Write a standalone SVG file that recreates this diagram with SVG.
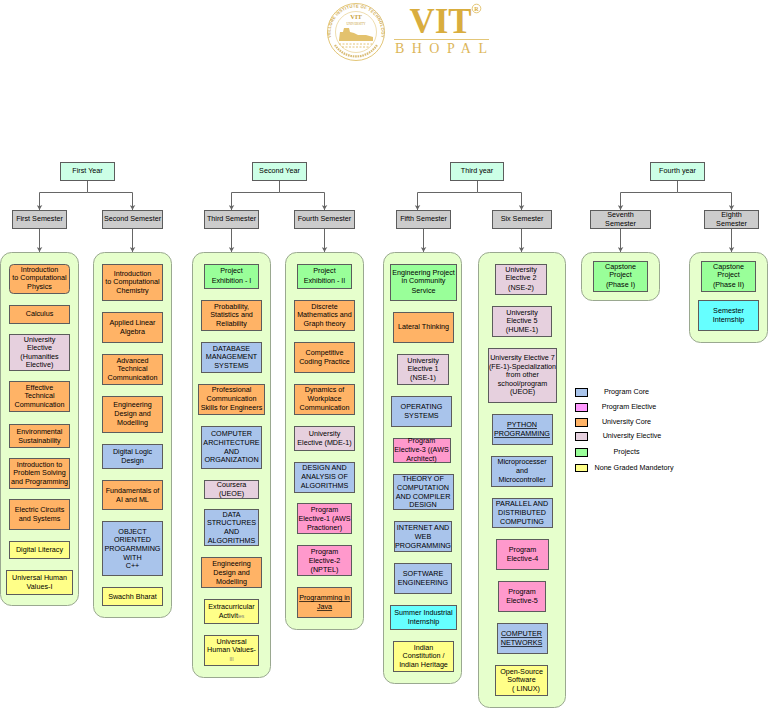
<svg xmlns="http://www.w3.org/2000/svg" width="768" height="708" viewBox="0 0 768 708">
<style>
text{font-family:"Liberation Sans",Arial,sans-serif;font-size:7.2px;fill:#000;text-anchor:middle}
rect{stroke:#5c5c5c;stroke-width:1}
.panel{fill:#e6ffcc;stroke:#9aa890}
.org{fill:#ffb366}.blu{fill:#a9c4eb}.lil{fill:#e6d0de}.grn{fill:#99ff99}.yel{fill:#ffff88}.pnk{fill:#ff99cc}.cya{fill:#66ffff}.gry{fill:#cccccc}.min{fill:#ccffe6}
.leg{stroke:#000}
.con{fill:none;stroke:#666;stroke-width:1}
.gold{fill:#d9ad3e}
.u{text-decoration:underline}
.sm{font-size:5px;fill:#777}
</style>
<defs>
<marker id="arr" markerUnits="userSpaceOnUse" markerWidth="6" markerHeight="6" refX="5" refY="3" orient="auto"><path d="M0,0.2L5,3L0,5.8L1.2,3Z" fill="#666"/></marker>
</defs>
<g id="logo">
<g fill="none" stroke="#e3c678">
<circle cx="356" cy="32" r="28.5" stroke-width="1"/>
<circle cx="356" cy="32" r="20.5" stroke-width="0.6"/>
</g>
<path id="sealTop" d="M331,38A25.5,25.5 0 1 1 381,38" fill="none"/>
<text style="font-size:4.2px;fill:#d0ab52;font-weight:bold;letter-spacing:.3px"><textPath href="#sealTop" startOffset="50%">VELLORE INSTITUTE OF TECHNOLOGY</textPath></text>
<path d="M335,45A25,25 0 0 0 377,45" fill="none" stroke="#d0ab52" stroke-width="2.2" stroke-dasharray="1.6 .8" opacity=".8"/>
<text x="356" y="18.5" style="font-family:'Liberation Serif',serif;font-size:6.5px;fill:#c9a140;font-weight:bold">VIT</text>
<text x="356" y="24.5" style="font-family:'Liberation Serif',serif;font-size:3.2px;fill:#c9a140">UNIVERSITY</text>
<path class="gold" opacity=".75" d="M339,40L340,32L343,32L344,28L349,28L350,32L354,33L358,35L366,35L373,37L373,41L360,41L339,41Z"/>
<path d="M339,44L373,44M342,47L370,47" stroke="#d9ad3e" stroke-width="1" stroke-dasharray="2 1.5" fill="none" opacity=".7"/>
<text x="409.5" y="33" style="font-family:'Liberation Serif',serif;font-size:36px;font-weight:bold;fill:#d9ad3e;text-anchor:start" textLength="62" lengthAdjust="spacingAndGlyphs">VIT</text>
<circle cx="476.5" cy="8.5" r="4.3" fill="none" stroke="#d9ad3e" stroke-width=".7"/>
<text x="476.5" y="10.7" style="font-family:'Liberation Serif',serif;font-size:6px;font-weight:bold;fill:#d9ad3e">R</text>
<path d="M394,39.5H489" stroke="#e3c678" stroke-width="1"/>
<text x="395" y="52.5" style="font-family:'Liberation Serif',serif;font-size:14px;fill:#dcb65a;text-anchor:start" textLength="92">BHOPAL</text>
</g>
<g id="connectors">
<path class="con" d="M87.5,180.5V192.5"/>
<path class="con" marker-end="url(#arr)" d="M87.5,192.5H39.5V210"/>
<path class="con" marker-end="url(#arr)" d="M87.5,192.5H132.5V210"/>
<path class="con" d="M279.5,180.5V192.5"/>
<path class="con" marker-end="url(#arr)" d="M279.5,192.5H231.5V210"/>
<path class="con" marker-end="url(#arr)" d="M279.5,192.5H324.5V210"/>
<path class="con" d="M477.5,180.5V192.5"/>
<path class="con" marker-end="url(#arr)" d="M477.5,192.5H417.5V210"/>
<path class="con" marker-end="url(#arr)" d="M477.5,192.5H521.5V210"/>
<path class="con" d="M677.5,180.5V192.5"/>
<path class="con" marker-end="url(#arr)" d="M677.5,192.5H620.5V210"/>
<path class="con" marker-end="url(#arr)" d="M677.5,192.5H731.5V210"/>
<path class="con" marker-end="url(#arr)" d="M39.5,228.5V252"/>
<path class="con" marker-end="url(#arr)" d="M132.5,228.5V252"/>
<path class="con" marker-end="url(#arr)" d="M231.5,228.5V252"/>
<path class="con" marker-end="url(#arr)" d="M324.5,228.5V252"/>
<path class="con" marker-end="url(#arr)" d="M423.5,228.5V252"/>
<path class="con" marker-end="url(#arr)" d="M521.5,228.5V252"/>
<path class="con" marker-end="url(#arr)" d="M620.5,228.5V252"/>
<path class="con" marker-end="url(#arr)" d="M731.5,228.5V252"/>
</g>
<g id="year1"><rect class="min" x="60.5" y="162.5" width="54" height="18"/><text x="87.5" y="173">First Year</text></g>
<g id="year2"><rect class="min" x="252.5" y="162.5" width="54" height="18"/><text x="279.5" y="173">Second Year</text></g>
<g id="year3"><rect class="min" x="450.5" y="162.5" width="53" height="18"/><text x="477" y="173">Third year</text></g>
<g id="year4"><rect class="min" x="650.5" y="162.5" width="54" height="18"/><text x="677.5" y="173">Fourth year</text></g>
<g id="sem1"><rect class="gry" x="12.5" y="210.5" width="54" height="18"/><text x="39.5" y="221">First Semester</text></g>
<g id="sem2"><rect class="gry" x="102.5" y="210.5" width="60" height="18"/><text x="132.5" y="221">Second Semester</text></g>
<g id="sem3"><rect class="gry" x="204.5" y="210.5" width="54" height="18"/><text x="231.5" y="221">Third Semester</text></g>
<g id="sem4"><rect class="gry" x="294.5" y="210.5" width="60" height="18"/><text x="324.5" y="221">Fourth Semester</text></g>
<g id="sem5"><rect class="gry" x="396.5" y="210.5" width="54" height="18"/><text x="423.5" y="221">Fifth Semester</text></g>
<g id="sem6"><rect class="gry" x="492.5" y="210.5" width="59" height="18"/><text x="522" y="221">Six Semester</text></g>
<g id="sem7"><rect class="gry" x="590.5" y="210.5" width="60" height="18"/><text x="620.5"><tspan x="620.5" y="217.3">Seventh</tspan><tspan x="620.5" y="226.3">Semester</tspan></text></g>
<g id="sem8"><rect class="gry" x="704.5" y="210.5" width="54" height="18"/><text x="731.5"><tspan x="731.5" y="217.3">Eighth</tspan><tspan x="731.5" y="226.3">Semester</tspan></text></g>
<g id="panel1"><rect class="panel" x="0.5" y="252.5" width="78" height="353" rx="11"/></g>
<g id="panel2"><rect class="panel" x="93.5" y="252.5" width="78" height="365" rx="11"/></g>
<g id="panel3"><rect class="panel" x="192.5" y="252.5" width="78" height="425" rx="11"/></g>
<g id="panel4"><rect class="panel" x="285.5" y="252.5" width="78" height="377" rx="11"/></g>
<g id="panel5"><rect class="panel" x="383.5" y="252.5" width="78" height="431" rx="11"/></g>
<g id="panel6"><rect class="panel" x="478.5" y="252.5" width="87" height="455" rx="11"/></g>
<g id="panel7"><rect class="panel" x="581.5" y="252.5" width="78" height="48" rx="11"/></g>
<g id="panel8"><rect class="panel" x="689.5" y="252.5" width="78" height="90" rx="11"/></g>

<g id="c1"><rect class="org" x="9.5" y="264.5" width="60" height="29" rx="4"/><text><tspan x="39.5" y="272">Introduction</tspan><tspan x="39.5" y="280.3">to Computational</tspan><tspan x="39.5" y="289">Physics</tspan></text></g>
<g id="c2"><rect class="org" x="9.5" y="305.5" width="60" height="18"/><text x="39.5" y="316">Calculus</text></g>
<g id="c3"><rect class="lil" x="9.5" y="334.5" width="60" height="36"/><text><tspan x="39.5" y="342">University</tspan><tspan x="39.5" y="350">Elective</tspan><tspan x="39.5" y="359">(Humanities</tspan><tspan x="39.5" y="367">Elective)</tspan></text></g>
<g id="c4"><rect class="org" x="9.5" y="381.5" width="60" height="30"/><text><tspan x="39.5" y="390">Effective</tspan><tspan x="39.5" y="398.3">Technical</tspan><tspan x="39.5" y="407">Communication</tspan></text></g>
<g id="c5"><rect class="org" x="9.5" y="424.5" width="60" height="23"/><text><tspan x="39.5" y="434.3">Environmental</tspan><tspan x="39.5" y="443">Sustainability</tspan></text></g>
<g id="c6"><rect class="org" x="9.5" y="458.5" width="60" height="30"/><text><tspan x="39.5" y="467">Introduction to</tspan><tspan x="39.5" y="475.3">Problem Solving</tspan><tspan x="39.5" y="484.3">and Programming</tspan></text></g>
<g id="c7"><rect class="org" x="9.5" y="499.5" width="60" height="30"/><text><tspan x="39.5" y="512.3">Electric Circuits</tspan><tspan x="39.5" y="521.3">and Systems</tspan></text></g>
<g id="c8"><rect class="yel" x="9.5" y="541.5" width="60" height="17"/><text x="39.5" y="552.3">Digital Literacy</text></g>
<g id="c9"><rect class="yel" x="6.5" y="570.5" width="66" height="24"/><text><tspan x="39.5" y="580.3">Universal Human</tspan><tspan x="39.5" y="589">Values-I</tspan></text></g>

<g id="c10"><rect class="org" x="102.5" y="264.5" width="60" height="36"/><text><tspan x="132.5" y="276">Introduction</tspan><tspan x="132.5" y="284.3">to Computational</tspan><tspan x="132.5" y="293">Chemistry</tspan></text></g>
<g id="c11"><rect class="org" x="102.5" y="312.5" width="60" height="30"/><text><tspan x="132.5" y="325.3">Applied Linear</tspan><tspan x="132.5" y="334">Algebra</tspan></text></g>
<g id="c12"><rect class="org" x="102.5" y="354.5" width="60" height="30"/><text><tspan x="132.5" y="363">Advanced</tspan><tspan x="132.5" y="371.3">Technical</tspan><tspan x="132.5" y="380">Communication</tspan></text></g>
<g id="c13"><rect class="org" x="102.5" y="396.5" width="60" height="36"/><text><tspan x="132.5" y="407.3">Engineering</tspan><tspan x="132.5" y="416.3">Design  and</tspan><tspan x="132.5" y="425">Modelling</tspan></text></g>
<g id="c14"><rect class="blu" x="102.5" y="444.5" width="60" height="24"/><text><tspan x="132.5" y="454">Digital Logic</tspan><tspan x="132.5" y="463">Design</tspan></text></g>
<g id="c15"><rect class="org" x="102.5" y="480.5" width="60" height="29"/><text><tspan x="132.5" y="493.3">Fundamentals of</tspan><tspan x="132.5" y="502.3">AI and ML</tspan></text></g>
<g id="c16"><rect class="blu" x="102.5" y="521.5" width="60" height="54"/><text><tspan x="132.5" y="534">OBJECT</tspan><tspan x="132.5" y="542">ORIENTED</tspan><tspan x="132.5" y="551.3">PROGARMMING</tspan><tspan x="132.5" y="560">WITH</tspan><tspan x="132.5" y="568">C++</tspan></text></g>
<g id="c17"><rect class="yel" x="102.5" y="587.5" width="60" height="18"/><text x="132.5" y="599">Swachh Bharat</text></g>

<g id="c18"><rect class="grn" x="204.5" y="264.5" width="54" height="24"/><text><tspan x="231.5" y="273">Project</tspan><tspan x="231.5" y="283">Exhibition - I</tspan></text></g>
<g id="c19"><rect class="org" x="201.5" y="300.5" width="60" height="30"/><text><tspan x="231.5" y="309">Probability,</tspan><tspan x="231.5" y="317.3">Statistics and</tspan><tspan x="231.5" y="326">Reliability</tspan></text></g>
<g id="c20"><rect class="blu" x="201.5" y="342.5" width="60" height="30"/><text><tspan x="231.5" y="351">DATABASE</tspan><tspan x="231.5" y="359.3">MANAGEMENT</tspan><tspan x="231.5" y="368">SYSTEMS</tspan></text></g>
<g id="c21"><rect class="org" x="198.5" y="384.5" width="66" height="30"/><text><tspan x="231.5" y="392">Professional</tspan><tspan x="231.5" y="401">Communication</tspan><tspan x="231.5" y="410">Skills for Engineers</tspan></text></g>
<g id="c22"><rect class="blu" x="201.5" y="426.5" width="60" height="42"/><text><tspan x="231.5" y="436">COMPUTER</tspan><tspan x="231.5" y="445">ARCHITECTURE</tspan><tspan x="231.5" y="454">AND</tspan><tspan x="231.5" y="462">ORGANIZATION</tspan></text></g>
<g id="c23"><rect class="lil" x="204.5" y="480.5" width="54" height="18"/><text><tspan x="231.5" y="487.3">Coursera</tspan><tspan x="231.5" y="496.3">(UEOE)</tspan></text></g>
<g id="c24"><rect class="blu" x="204.5" y="509.5" width="54" height="36"/><text><tspan x="231.5" y="517">DATA</tspan><tspan x="231.5" y="525.3">STRUCTURES</tspan><tspan x="231.5" y="534.3">AND</tspan><tspan x="231.5" y="543.3">ALGORITHMS</tspan></text></g>
<g id="c25"><rect class="org" x="201.5" y="557.5" width="60" height="30"/><text><tspan x="231.5" y="566.3">Engineering</tspan><tspan x="231.5" y="575.3">Design  and</tspan><tspan x="231.5" y="584.3">Modelling</tspan></text></g>
<g id="c26"><rect class="yel" x="204.5" y="599.5" width="54" height="24"/><text><tspan x="231.5" y="609.3">Extracurricular</tspan><tspan x="231.5" y="618">Activit<tspan class="sm">ies</tspan></tspan></text></g>
<g id="c27"><rect class="yel" x="204.5" y="635.5" width="54" height="30"/><text><tspan x="231.5" y="644.3">Universal</tspan><tspan x="231.5" y="652.3">Human Values-</tspan><tspan x="231.5" y="661" class="sm">III</tspan></text></g>

<g id="c28"><rect class="grn" x="297.5" y="264.5" width="54" height="24"/><text><tspan x="324.5" y="273">Project</tspan><tspan x="324.5" y="283">Exhibition - II</tspan></text></g>
<g id="c29"><rect class="org" x="294.5" y="300.5" width="60" height="30"/><text><tspan x="324.5" y="309">Discrete</tspan><tspan x="324.5" y="317.3">Mathematics and</tspan><tspan x="324.5" y="326">Graph theory</tspan></text></g>
<g id="c30"><rect class="org" x="294.5" y="342.5" width="60" height="30"/><text><tspan x="324.5" y="355.3">Competitive</tspan><tspan x="324.5" y="364.3">Coding Practice</tspan></text></g>
<g id="c31"><rect class="org" x="294.5" y="384.5" width="60" height="30"/><text><tspan x="324.5" y="392">Dynamics of</tspan><tspan x="324.5" y="401">Workplace</tspan><tspan x="324.5" y="410">Communication</tspan></text></g>
<g id="c32"><rect class="lil" x="294.5" y="426.5" width="60" height="24"/><text><tspan x="324.5" y="436">University</tspan><tspan x="324.5" y="445">Elective (MDE-1)</tspan></text></g>
<g id="c33"><rect class="blu" x="294.5" y="462.5" width="60" height="30"/><text><tspan x="324.5" y="470">DESIGN AND</tspan><tspan x="324.5" y="479">ANALYSIS OF</tspan><tspan x="324.5" y="488">ALGORITHMS</tspan></text></g>
<g id="c34"><rect class="pnk" x="297.5" y="503.5" width="54" height="30"/><text><tspan x="324.5" y="512">Program</tspan><tspan x="324.5" y="521">Elective-1 (AWS</tspan><tspan x="324.5" y="530">Practioner)</tspan></text></g>
<g id="c35"><rect class="pnk" x="297.5" y="545.5" width="54" height="30"/><text><tspan x="324.5" y="554">Program</tspan><tspan x="324.5" y="563">Elective-2</tspan><tspan x="324.5" y="572">(NPTEL)</tspan></text></g>
<g id="c36"><rect class="org" x="297.5" y="587.5" width="54" height="30"/><text class="u"><tspan x="324.5" y="600.3">Programming in</tspan><tspan x="324.5" y="609.3">Java</tspan></text></g>

<g id="c37"><rect class="grn" x="390.5" y="264.5" width="66" height="36"/><text><tspan x="423.5" y="275.3">Engineering Project</tspan><tspan x="423.5" y="283.3">in Community</tspan><tspan x="423.5" y="293">Service</tspan></text></g>
<g id="c38"><rect class="org" x="393.5" y="312.5" width="60" height="30"/><text x="423.5" y="329.3">Lateral Thinking</text></g>
<g id="c39"><rect class="lil" x="397.5" y="354.5" width="51" height="30"/><text><tspan x="423" y="363">University</tspan><tspan x="423" y="371.3">Elective 1</tspan><tspan x="423" y="380.3">(NSE-1)</tspan></text></g>
<g id="c40"><rect class="blu" x="391.5" y="396.5" width="60" height="30"/><text><tspan x="421.5" y="409">OPERATING</tspan><tspan x="421.5" y="418">SYSTEMS</tspan></text></g>
<g id="c41"><rect class="pnk" x="393.5" y="438.5" width="57" height="24"/><text><tspan x="421.5" y="443.3">Program</tspan><tspan x="421.5" y="452.3">Elective-3 ((AWS</tspan><tspan x="421.5" y="461">Architect)</tspan></text></g>
<g id="c42"><rect class="blu" x="393.5" y="474.5" width="60" height="35"/><text><tspan x="423" y="481">THEORY OF</tspan><tspan x="423" y="490">COMPUTATION</tspan><tspan x="423" y="499">AND  COMPILER</tspan><tspan x="423" y="507">DESIGN</tspan></text></g>
<g id="c43"><rect class="blu" x="394.5" y="521.5" width="57" height="30"/><text><tspan x="423" y="530.3">INTERNET AND</tspan><tspan x="423" y="539.3">WEB</tspan><tspan x="423" y="548.3">PROGRAMMING</tspan></text></g>
<g id="c44"><rect class="blu" x="394.5" y="563.5" width="57" height="30"/><text><tspan x="423" y="576">SOFTWARE</tspan><tspan x="423" y="585">ENGINEERING</tspan></text></g>
<g id="c45"><rect class="cya" x="390.5" y="605.5" width="66" height="24"/><text><tspan x="423.5" y="615.3">Summer Industrial</tspan><tspan x="423.5" y="624.3">Internship</tspan></text></g>
<g id="c46"><rect class="yel" x="393.5" y="641.5" width="60" height="30"/><text><tspan x="423.5" y="650.3">Indian</tspan><tspan x="423.5" y="658.3">Constitution /</tspan><tspan x="423.5" y="667.3">Indian Heritage</tspan></text></g>

<g id="c47"><rect class="lil" x="495.5" y="264.5" width="51" height="30"/><text><tspan x="521" y="272">University</tspan><tspan x="521" y="280.3">Elective 2</tspan><tspan x="521" y="290.3">(NSE-2)</tspan></text></g>
<g id="c48"><rect class="lil" x="492.5" y="306.5" width="59" height="30"/><text><tspan x="522" y="315">University</tspan><tspan x="522" y="323.3">Elective 5</tspan><tspan x="522" y="332.3">(HUME-1)</tspan></text></g>
<g id="c49"><rect class="lil" x="488.5" y="348.5" width="68" height="54"/><text><tspan x="522.5" y="360.3">University Elective 7</tspan><tspan x="522.5" y="369.3">(FE-1)-Specialization</tspan><tspan x="522.5" y="377">from other</tspan><tspan x="522.5" y="386">school/program</tspan><tspan x="522.5" y="394.3">(UEOE)</tspan></text></g>
<g id="c50"><rect class="blu" x="492.5" y="414.5" width="60" height="30"/><text class="u"><tspan x="522" y="427.3">PYTHON</tspan><tspan x="522" y="436.3">PROGRAMMING</tspan></text></g>
<g id="c51"><rect class="blu" x="491.5" y="456.5" width="61" height="30"/><text><tspan x="522" y="464">Microprocesser</tspan><tspan x="522" y="473">and</tspan><tspan x="522" y="482.3">Microcontroller</tspan></text></g>
<g id="c52"><rect class="blu" x="492.5" y="498.5" width="60" height="29"/><text><tspan x="522" y="506">PARALLEL AND</tspan><tspan x="522" y="515">DISTRIBUTED</tspan><tspan x="522" y="524">COMPUTING</tspan></text></g>
<g id="c53"><rect class="pnk" x="496.5" y="539.5" width="52" height="30"/><text><tspan x="522.5" y="552.3">Program</tspan><tspan x="522.5" y="561.3">Elective-4</tspan></text></g>
<g id="c54"><rect class="pnk" x="498.5" y="581.5" width="47" height="30"/><text><tspan x="522" y="594.3">Program</tspan><tspan x="522" y="603.3">Elective-5</tspan></text></g>
<g id="c55"><rect class="blu" x="497.5" y="623.5" width="50" height="30"/><text class="u"><tspan x="521.5" y="636.3">COMPUTER</tspan><tspan x="521.5" y="645.3">NETWORKS</tspan></text></g>
<g id="c56"><rect class="yel" x="495.5" y="665.5" width="52" height="30"/><text><tspan x="521.5" y="674.3">Open-Source</tspan><tspan x="521.5" y="682.3">Software</tspan><tspan x="526" y="691.3">( LINUX)</tspan></text></g>

<g id="c57"><rect class="grn" x="593.5" y="261.5" width="54" height="30"/><text><tspan x="620.5" y="269.3">Capstone</tspan><tspan x="620.5" y="277.3">Project</tspan><tspan x="620.5" y="287.3">(Phase I)</tspan></text></g>
<g id="c58"><rect class="grn" x="701.5" y="261.5" width="54" height="30"/><text><tspan x="728.5" y="269.3">Capstone</tspan><tspan x="728.5" y="277.3">Project</tspan><tspan x="728.5" y="287.3">(Phase II)</tspan></text></g>
<g id="c59"><rect class="cya" x="698.5" y="300.5" width="60" height="30"/><text><tspan x="728.5" y="313">Semester</tspan><tspan x="728.5" y="322">Internship</tspan></text></g>

<g id="legend">
<rect class="leg blu" x="575.5" y="388.5" width="12" height="8"/><text x="626.5" y="394.2">Program Core</text>
<rect class="leg" fill="#ff99ff" x="575.5" y="403.5" width="12" height="8"/><text x="629" y="409.2">Program Elective</text>
<rect class="leg org" x="575.5" y="418.5" width="12" height="8"/><text x="626.5" y="424">University Core</text>
<rect class="leg lil" x="575.5" y="432.5" width="12" height="8"/><text x="632" y="438.2">University Elective</text>
<rect class="leg grn" x="575.5" y="448.5" width="12" height="8"/><text x="626.5" y="453.8">Projects</text>
<rect class="leg yel" x="575.5" y="464.5" width="12" height="7"/><text x="634" y="470.2">None Graded Mandetory</text>
</g>
</svg>
